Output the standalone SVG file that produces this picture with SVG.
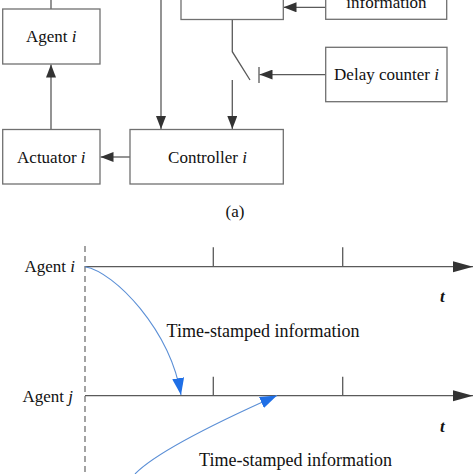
<svg xmlns="http://www.w3.org/2000/svg" width="474" height="474" viewBox="0 0 474 474">
<defs>
<style>
.box{fill:#fff;stroke:#707070;stroke-width:1.3}
.ln{fill:none;stroke:#5a5a5a;stroke-width:1.3}
.bl{fill:none;stroke:#5b8fd6;stroke-width:1.1}
.tx{font-family:"Liberation Serif","Times New Roman",serif;font-size:17px;fill:#111}
.it{font-style:italic}
</style>
<marker id="ah" markerWidth="14" markerHeight="10" refX="13" refY="5" orient="auto" markerUnits="userSpaceOnUse">
<path d="M0,0 L13,5 L0,10 Z" fill="#333"/>
</marker>
<marker id="ahbig" markerWidth="21" markerHeight="12" refX="20" refY="6" orient="auto" markerUnits="userSpaceOnUse">
<path d="M0,0.5 L20,6 L0,11.5 Z" fill="#333"/>
</marker>
<marker id="ahblue" markerWidth="18" markerHeight="12" refX="17" refY="6" orient="auto" markerUnits="userSpaceOnUse">
<path d="M0,0 L17,6 L0,12 Z" fill="#1f6fe6"/>
</marker>
</defs>
<rect width="474" height="474" fill="#fff"/>

<g id="connectors">
<line class="ln" x1="51" y1="0" x2="51" y2="9"/>
<line class="ln" x1="51" y1="129.5" x2="51" y2="64.5" marker-end="url(#ah)"/>
<line class="ln" x1="130" y1="157" x2="100.5" y2="157" marker-end="url(#ah)"/>
<line class="ln" x1="161" y1="-5" x2="161" y2="129" marker-end="url(#ah)"/>
<line class="ln" x1="325.7" y1="7.3" x2="283.5" y2="7.3" marker-end="url(#ah)"/>
<polyline class="ln" points="232.3,19.5 232.3,51.7 250,80"/>
<line class="ln" x1="232.3" y1="80" x2="232.3" y2="129" marker-end="url(#ah)"/>
<line class="ln" x1="259" y1="67" x2="259" y2="83"/>
<line class="ln" x1="325.7" y1="74.6" x2="259.5" y2="74.6" marker-end="url(#ah)"/>

<line class="ln" x1="85" y1="266.7" x2="473" y2="266.7" marker-end="url(#ahbig)"/>
<line class="ln" x1="213.3" y1="247.3" x2="213.3" y2="266.7"/>
<line class="ln" x1="342.7" y1="247.3" x2="342.7" y2="266.7"/>
<line class="ln" x1="85" y1="395.7" x2="473" y2="395.7" marker-end="url(#ahbig)"/>
<line class="ln" x1="213.3" y1="376.7" x2="213.3" y2="395.7"/>
<line class="ln" x1="342.7" y1="376.7" x2="342.7" y2="395.7"/>
<line x1="85" y1="246" x2="85" y2="474" stroke="#666" stroke-width="1.2" stroke-dasharray="6,4"/>
<path class="bl" d="M85,266.7 C115,272 170,330 181,395" marker-end="url(#ahblue)"/>
<path class="bl" d="M135,474 C160,448 240,412 277,395.5" marker-end="url(#ahblue)"/>
</g>

<g id="agent-i">
<rect class="box" x="2.7" y="9" width="97.3" height="55"/>
<text class="tx" x="51.3" y="42" text-anchor="middle">Agent <tspan class="it">i</tspan></text>
</g>
<g id="actuator-i">
<rect class="box" x="2.7" y="129.5" width="97.3" height="54.5"/>
<text class="tx" x="51.3" y="163" text-anchor="middle">Actuator <tspan class="it">i</tspan></text>
</g>
<g id="controller-i">
<rect class="box" x="130" y="129.5" width="153.3" height="54.5"/>
<text class="tx" x="207.5" y="163.3" text-anchor="middle">Controller <tspan class="it">i</tspan></text>
</g>
<g id="top-box">
<rect class="box" x="181" y="-30" width="102.3" height="49.5"/>
</g>
<g id="information">
<rect class="box" x="325.7" y="-30" width="121" height="49.3"/>
<text class="tx" x="386.5" y="7.5" text-anchor="middle">information</text>
</g>
<g id="delay-counter-i">
<rect class="box" x="325.7" y="47.3" width="121.3" height="54.4"/>
<text class="tx" x="386.5" y="80" text-anchor="middle">Delay counter <tspan class="it">i</tspan></text>
</g>
<text class="tx" x="235" y="217" text-anchor="middle">(a)</text>

<g id="timeline-labels">
<text class="tx" x="75" y="272" text-anchor="end">Agent <tspan class="it">i</tspan></text>
<text class="tx" x="73" y="401.5" text-anchor="end">Agent <tspan class="it">j</tspan></text>
<text class="tx it" x="440" y="302" style="font-weight:bold">t</text>
<text class="tx it" x="440" y="432" style="font-weight:bold">t</text>
<text class="tx" x="263" y="336.7" text-anchor="middle" style="font-size:18px">Time-stamped information</text>
<text class="tx" x="295.5" y="466" text-anchor="middle" style="font-size:18px">Time-stamped information</text>
</g>
</svg>
